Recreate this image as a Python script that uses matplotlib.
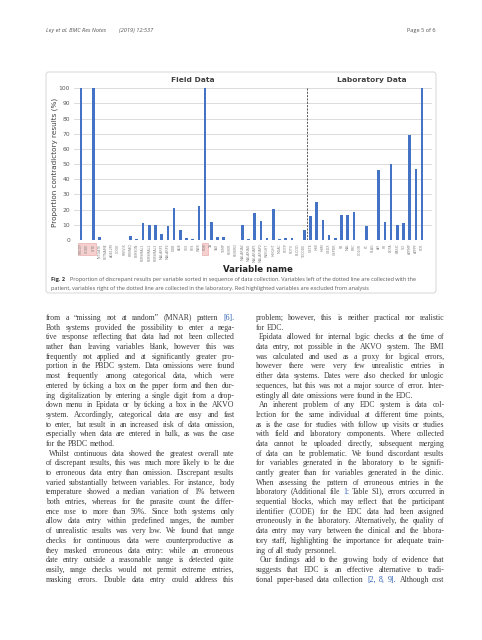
import math
import matplotlib.pyplot as plt
import matplotlib.transforms as mtransforms
from matplotlib.patches import FancyBboxPatch, Rectangle
from matplotlib.font_manager import FontProperties
from matplotlib.backends.backend_agg import get_hinting_flag

W, H = 482, 640

# variables in order of collection (37 field, 19 laboratory)
variables = ["STUDY", "CODE", "SITE", "INTDATE", "PETNAME", "AGE12M", "COOK", "PREVIX",
             "PRIMAQ", "PERSON", "PERSMAL1", "PERSMAL2", "PERSMAL3", "MALARP1", "MALARP2",
             "DOB", "AGE", "SEX", "RES", "WBR", "POB", "TA", "TAX", "TEMP", "FEVER", "FEVERD",
             "MALARIAC", "MALARIAG", "MALARIAP1", "MALARIAP2", "WEIGHT", "HEIGHT", "MUAC",
             "RDTP", "RDTV", "BLOOD", "TECODE",
             "G6TE", "HBX", "HBM", "G6DX", "G6PDR", "FB", "MAL", "RBC", "COLOR", "PC", "FLAG",
             "AFI", "FR", "EDTA", "BASIC", "SCI", "ATPMP", "ATPPF", "PCR"]
discrepant = [100, 0, 100, 1.8, 0, 0.3, 0.3, 0, 2.4, 0.5,
              11.2, 10.1, 10, 3.7, 9.5, 21, 6.4, 1, 0.5, 22.6,
              100, 11.9, 2.2, 2.2, 0.3, 0, 10, 0.5, 17.8, 12.5,
              1.5, 20.4, 0.5, 1, 1, 0, 6.4, 16, 24.8, 13,
              3.3, 1, 16.5, 16.5, 18.7, 0.3, 9.2, 0, 46.4, 12,
              50.1, 9.9, 11, 69.2, 46.8, 100]
excluded = ["STUDY", "CODE", "SITE", "POB"]
n_field = 37
yticks = list(range(0, 101, 10))

header_left = "Ley et al. BMC Res Notes"
header_year = "(2019) 12:537"
header_page = "Page 5 of 6"

caption_lines = [
    "Proportion of discrepant results per variable sorted in sequence of data collection. Variables left of the dotted line are collected with the",
    "patient, variables right of the dotted line are collected in the laboratory. Red highlighted variables are excluded from analysis",
]

left_col = [
    "from a \u201cmissing not at random\u201d (MNAR) pattern [6].",
    "Both systems provided the possibility to enter a nega-",
    "tive response reflecting that data had not been collected",
    "rather than leaving variables blank, however this was",
    "frequently not applied and at significantly greater pro-",
    "portion in the PBDC system. Data omissions were found",
    "most frequently among categorical data, which were",
    "entered by ticking a box on the paper form and then dur-",
    "ing digitalization by entering a single digit from a drop-",
    "down menu in Epidata or by ticking a box in the AKVO",
    "system. Accordingly, categorical data are easy and fast",
    "to enter, but result in an increased risk of data omission,",
    "especially when data are entered in bulk, as was the case",
    "for the PBDC method.",
    "Whilst continuous data showed the greatest overall rate",
    "of discrepant results, this was much more likely to be due",
    "to erroneous data entry than omission. Discrepant results",
    "varied substantially between variables. For instance, body",
    "temperature showed a median variation of 1% between",
    "both entries, whereas for the parasite count the differ-",
    "ence rose to more than 50%. Since both systems only",
    "allow data entry within predefined ranges, the number",
    "of unrealistic results was very low. We found that range",
    "checks for continuous data were counterproductive as",
    "they masked erroneous data entry: while an erroneous",
    "date entry outside a reasonable range is detected quite",
    "easily, range checks would not permit extreme entries,",
    "masking errors. Double data entry could address this",
]
left_starts = [14]

right_col = [
    "problem; however, this is neither practical nor realistic",
    "for EDC.",
    "Epidata allowed for internal logic checks at the time of",
    "data entry, not possible in the AKVO system. The BMI",
    "was calculated and used as a proxy for logical errors,",
    "however there were very few unrealistic entries in",
    "either data systems. Dates were also checked for unlogic",
    "sequences, but this was not a major source of error. Inter-",
    "estingly all date omissions were found in the EDC.",
    "An inherent problem of any EDC system is data col-",
    "lection for the same individual at different time points,",
    "as is the case for studies with follow up visits or studies",
    "with field and laboratory components. Where collected",
    "data cannot be uploaded directly, subsequent merging",
    "of data can be problematic. We found discordant results",
    "for variables generated in the laboratory to be signifi-",
    "cantly greater than for variables generated in the clinic.",
    "When assessing the pattern of erroneous entries in the",
    "laboratory (Additional file 1: Table S1), errors occurred in",
    "sequential blocks, which may reflect that the participant",
    "identifier (CODE) for the EDC data had been assigned",
    "erroneously in the laboratory. Alternatively, the quality of",
    "data entry may vary between the clinical and the labora-",
    "tory staff, highlighting the importance for adequate train-",
    "ing of all study personnel.",
    "Our findings add to the growing body of evidence that",
    "suggests that EDC is an effective alternative to tradi-",
    "tional paper-based data collection [2, 8, 9]. Although cost",
]
right_starts = [2, 9, 25]
links = {"[6].", "[2,", "8,", "9].", "1:"}


def fx(x):
    return x / W


def fy(y):
    return 1 - y / H


fig = plt.figure(figsize=(W / 100, H / 100), dpi=100)
fig.patch.set_facecolor('white')

# rahmen um die abbildung
box = FancyBboxPatch((fx(46), fy(293)), fx(436) - fx(46), fy(72) - fy(293),
                     boxstyle='round,pad=0,rounding_size=0.005', transform=fig.transFigure,
                     fill=False, edgecolor='#d0d0d0', linewidth=0.6)
fig.add_artist(box)

ax = fig.add_axes([fx(74.3), fy(240), fx(431.7) - fx(74.3), fy(88.3) - fy(240)])
xs = list(range(len(variables)))
ax.bar(xs, discrepant, width=0.42, color='#4472c4', zorder=3)
ax.set_xlim(-1.08, 56.56)
ax.set_ylim(0, 100)
ax.set_yticks(yticks)
ax.yaxis.grid(True, color='#d6d6d6', linewidth=0.6)
ax.set_axisbelow(True)
for s in ax.spines.values():
    s.set_visible(False)
ax.tick_params(axis='y', length=0, labelsize=4.3, labelcolor='#595959', pad=3)
ax.set_xticks(xs)
ax.set_xticklabels(variables, rotation=90, fontsize=2.3, color='#808080')
ax.tick_params(axis='x', length=0, pad=2.5)
ax.axvline(n_field - 0.5, ymin=0, ymax=1, color='#404040', linestyle=(0, (2.5, 1.5)),
           linewidth=0.6, zorder=4)

# rot markierte (ausgeschlossene) variablen
trans = mtransforms.blended_transform_factory(ax.transData, ax.transAxes)
idx = [variables.index(v) for v in excluded]
groups = []
for i in idx:
    if groups and i == groups[-1][-1] + 1:
        groups[-1].append(i)
    else:
        groups.append([i])
for g in groups:
    ax.add_patch(Rectangle((g[0] - 0.42, -0.1), g[-1] - g[0] + 0.84, 0.082, transform=trans,
                           facecolor='#f6cfcf', edgecolor='#e3a0a0', linewidth=0.4,
                           clip_on=False, zorder=0))

fig.text(fx(192.7), fy(80), "Field Data", ha='center', va='center', fontsize=5.4,
         weight='bold', color='#404040')
fig.text(fx(371.7), fy(80), "Laboratory Data", ha='center', va='center', fontsize=5.4,
         weight='bold', color='#404040')
fig.text(fx(257.7), fy(270), "Variable name", ha='center', va='center', fontsize=6.2,
         weight='bold', color='#222222')
fig.text(fx(55), fy(162), "Proportion contradictory results (%)", rotation=90,
         ha='center', va='center', fontsize=5.2, color='#404040')

# caption
fig.text(fx(50.7), fy(281.5), "Fig. 2", fontsize=4.0, weight='bold', family='Open Sans',
         color='#333333', va='baseline')
fig.text(fx(69.7), fy(281.5), caption_lines[0], fontsize=4.0, family='Open Sans',
         color='#5a5a5a', va='baseline')
fig.text(fx(50.7), fy(290), caption_lines[1], fontsize=4.0, family='Open Sans',
         color='#5a5a5a', va='baseline')

# kopfzeile
fig.text(fx(46), fy(32), header_left, fontsize=4.1, style='italic', family='Open Sans',
         color='#555555', va='baseline')
fig.text(fx(119.3), fy(32), header_year, fontsize=4.1, style='italic', family='Open Sans',
         color='#555555', va='baseline')
fig.text(fx(436), fy(32), header_page, fontsize=4.1, family='Open Sans',
         color='#555555', va='baseline', ha='right')

# fliesstext im blocksatz, wort fuer wort
renderer = fig.canvas.get_renderer()
body_prop = FontProperties(family='Liberation Serif', size=5.6)


def word_width(s):
    return renderer.get_text_width_height_descent(s, body_prop, ismath=False)[0]


def snapped_y(word, target):
    # Agg rundet jede Textbitmap einzeln -> Grundlinie auf ganze Pixel legen
    font = renderer._prepare_font(body_prop)
    font.set_text(word, 0, flags=get_hinting_flag())
    w64, h64 = font.get_width_height()
    d64 = font.get_descent()
    hi = h64 // 64 + 2
    r = math.floor((h64 - d64) / 64 + 1)
    return target - 1 + hi - r - d64 / 64


def put_column(lines, starts, x0, x1, y0, step):
    for i, line in enumerate(lines):
        words = line.split()
        indent = 3.5 if i in starts else 0
        last = (i + 1) in starts
        target = round(y0 + i * step)
        widths = [word_width(w) for w in words]
        if last or len(words) < 2:
            gap = 1.9
        else:
            gap = (x1 - x0 - indent - sum(widths)) / (len(words) - 1)
        x = x0 + indent
        for w, wd in zip(words, widths):
            c = '#2a5db0' if w in links else '#3a3a3a'
            fig.text(fx(x), fy(snapped_y(w, target)), w, fontproperties=body_prop,
                     color=c, va='baseline')
            x += wd + gap


put_column(left_col, left_starts, 45.7, 234.5, 320, 9.69)
put_column(right_col, right_starts, 255.7, 444.5, 320, 9.69)

fig.savefig('out.png', dpi=100)
